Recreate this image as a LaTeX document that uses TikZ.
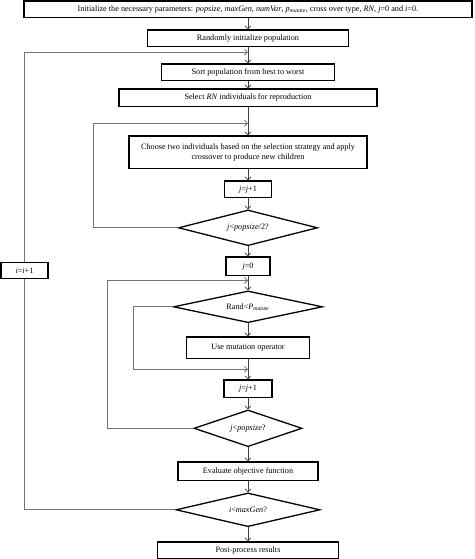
\documentclass[tikz,border=0pt]{standalone}
\usepackage{fontspec}
\setmainfont{Liberation Serif}
\usetikzlibrary{positioning,shapes.geometric,arrows.meta}

\tikzset{
    blocco/.style={draw, line width=1.3pt, rectangle, inner sep=1pt, align=center,
        font=\fontsize{8.2}{10}\selectfont},
    rombo/.style={draw, line width=1.3pt, diamond, aspect=4, inner sep=0pt,
        font=\fontsize{8.2}{10}\selectfont},
    freccia/.style={draw=black!75, line width=0.6pt, -{Straight Barb[length=3pt,width=6pt]}},
    ritorno/.style={draw=black!55, line width=0.8pt, -{Straight Barb[length=3pt,width=6pt]}}
}

\begin{document}
\begin{tikzpicture}[x=1pt, y=1pt]
    \useasboundingbox (0,0) rectangle (474,-559);

    % colonna centrale
    \node[blocco, minimum width=448pt, minimum height=16.7pt] (init) at (248,-9.3)
        {Initialize the necessary parameters: \textit{popsize}, \textit{maxGen}, \textit{numVar}, \textit{p}\textsubscript{\textit{mutate}}, cross over type, \textit{RN}, \textit{j}=0 and \textit{i}=0.};
    \node[blocco, minimum width=201pt, minimum height=16.7pt, below=11pt of init] (rand) {Randomly initialize population};
    \node[blocco, minimum width=173pt, minimum height=16.7pt, below=16pt of rand] (sort) {Sort population from best to worst};
    \node[blocco, minimum width=258pt, minimum height=17.7pt, below=7pt of sort] (sel) {Select \textit{RN} individuals for reproduction};
    \node[blocco, minimum width=238pt, minimum height=32.7pt, below=28pt of sel] (cross)
        {Choose two individuals based on the selection strategy and apply\\crossover to produce new children};
    \node[blocco, minimum width=47pt, minimum height=16.7pt, below=11pt of cross] (jinc) {\textit{j}=\textit{j}+1};
    \node[rombo, minimum width=139pt, minimum height=35.7pt, below=11pt of jinc] (cond1) {\textit{j}<\textit{popsize}/2?};
    \node[blocco, minimum width=44pt, minimum height=18.7pt, below=10pt of cond1] (jzero) {\textit{j}=0};
    \node[rombo, minimum width=149pt, minimum height=31.7pt, below=14pt of jzero] (cond2) {Rand<\textit{P}\textsubscript{\textit{mutate}}};
    \node[blocco, minimum width=123pt, minimum height=21.7pt, below=13pt of cond2] (mut) {Use mutation operator};
    \node[blocco, minimum width=48pt, minimum height=17.7pt, below=20pt of mut] (jinc2) {\textit{j}=\textit{j}+1};
    \node[rombo, minimum width=108pt, minimum height=36.7pt, below=11pt of jinc2] (cond3) {\textit{j}<\textit{popsize}?};
    \node[blocco, minimum width=140pt, minimum height=18.7pt, below=14pt of cond3] (eval) {Evaluate objective function};
    \node[rombo, minimum width=144pt, minimum height=33.7pt, below=11pt of eval] (cond4) {\textit{i}<\textit{maxGen}?};
    \node[blocco, minimum width=181pt, minimum height=16.7pt, below=14pt of cond4] (post) {Post-process results};

    \node[blocco, minimum width=47pt, minimum height=15.7pt] (iinc) at (24.5,-270.5) {\textit{i}=\textit{i}+1};

    % frecce verticali
    \draw[freccia] (init) -- (rand);
    \draw[freccia] (rand) -- coordinate[pos=0.3] (m1) (sort);
    \draw[freccia] (sort) -- (sel);
    \draw[freccia] (sel) -- coordinate[pos=0.57] (m2) (cross);
    \draw[freccia] (cross) -- (jinc);
    \draw[freccia] (jinc) -- (cond1);
    \draw[freccia] (cond1) -- (jzero);
    \draw[freccia] (jzero) -- coordinate[pos=0.3] (m3) (cond2);
    \draw[freccia] (cond2) -- (mut);
    \draw[freccia] (mut) -- coordinate[pos=0.5] (m4) (jinc2);
    \draw[freccia] (jinc2) -- (cond3);
    \draw[freccia] (cond3) -- (eval);
    \draw[freccia] (eval) -- (cond4);
    \draw[freccia] (cond4) -- (post);

    % cicli di ritorno
    \draw[ritorno] (cond4.west) -| (iinc.south) (iinc.north) |- (m1);
    \draw[ritorno] (cond1.west) -- ++(-84,0) |- (m2);
    \draw[ritorno] (cond3.west) -- ++(-86,0) |- (m3);
    \draw[ritorno] (cond2.west) -- ++(-39,0) |- (m4);

\end{tikzpicture}
\end{document}
